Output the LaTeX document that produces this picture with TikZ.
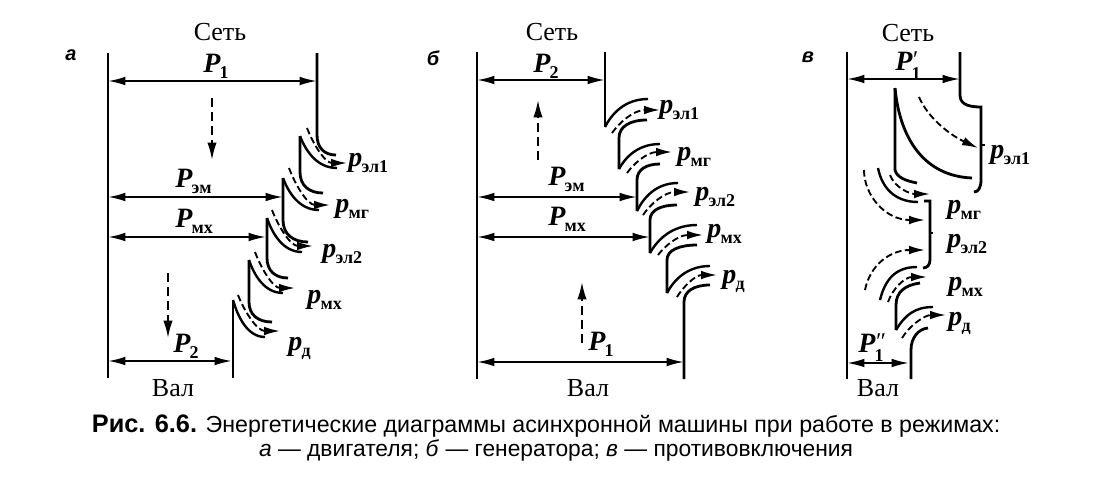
\documentclass[tikz,border=0pt]{standalone}
\usepackage{fontspec}
\setmainfont{Liberation Serif}
\setsansfont{Liberation Sans}
\usetikzlibrary{arrows.meta}
\tikzset{
  wall/.style={line width=2.1pt},
  flow/.style={line width=1.8pt},
  dsh/.style={line width=1.5pt,dash pattern=on 7pt off 3.5pt,-{Latex[length=13pt,width=7pt]}},
  dshthin/.style={line width=1.4pt,dash pattern=on 5pt off 2.5pt,-{Latex[length=12pt,width=6.5pt]}},
  dim/.style={line width=1.5pt,{Latex[length=13pt,width=6.5pt]}-{Latex[length=13pt,width=6.5pt]}},
  lb/.style={inner sep=0pt,anchor=base west},
  ttl/.style={inner sep=0pt,font=\fontsize{19.5pt}{19.5pt}\selectfont},
  tag/.style={inner sep=0pt,font=\sffamily\itshape\bfseries\fontsize{15pt}{15pt}\selectfont},
  captext/.style={inner sep=0pt,font=\sffamily\fontsize{17.4pt}{19pt}\selectfont},
  captextb/.style={inner sep=0pt,font=\sffamily\fontsize{17.1pt}{19pt}\selectfont}
}
% curve leaving vertically and arriving horizontally
\newcommand{\cv}[4]{(#1,#2) .. controls ({#1},{#2+0.65*(#4-#2)}) and ({#1+0.4*(#3-#1)},{#4}) .. (#3,#4)}
% flatter variant, leaving diagonally
\newcommand{\cvd}[4]{(#1,#2) .. controls ({#1+0.15*(#3-#1)},{#2+0.45*(#4-#2)}) and ({#1+0.45*(#3-#1)},{#4}) .. (#3,#4)}
\newcommand{\sym}[2]{{\fontsize{21pt}{21pt}\selectfont\bfseries\itshape #1}\kern-0.5pt\raisebox{-5pt}{\fontsize{13.5pt}{13.5pt}\selectfont\bfseries #2}}
\newcommand{\symb}[3]{{\fontsize{21pt}{21pt}\selectfont\bfseries\itshape #1}\kern-0.5pt\rlap{\raisebox{2pt}{\fontsize{18pt}{18pt}\selectfont\itshape #3}}\raisebox{-7pt}{\fontsize{13.5pt}{13.5pt}\selectfont\bfseries #2}}
\begin{document}
\begin{tikzpicture}[x=0.75pt,y=-0.75pt]
\useasboundingbox[fill=white] (0,0) rectangle (1115,487);

%---------- panel a
\node[tag] (ta) at (71,55) {а};
\node[ttl] (sa) at (220,32) {Сеть};
\node[ttl] (va) at (173,388) {Вал};
\coordinate (aL1) at (108,81);\coordinate (aR1) at (317,81);
\coordinate (aL2) at (108,197);\coordinate (aR2) at (283,197);
\coordinate (aL3) at (108,237);\coordinate (aR3) at (266,237);
\coordinate (aL4) at (108,361);\coordinate (aR4) at (232,361);
\draw[wall] (108,53) -- (108,378);
\draw[wall] (317,53) -- (317,135) -- \cv{317}{135}{336}{155};
\draw[wall] (300,136) -- (300,172) -- \cv{300}{172}{323}{193};
\draw[wall] (283,178) -- (283,220) -- \cv{283}{220}{308}{242};
\draw[wall] (267,218) -- (267,258) -- \cv{267}{258}{288}{278};
\draw[wall] (249,260) -- (249,302) -- \cv{249}{302}{272}{322};
\draw[wall] (233,300) -- (233,378);
\draw[flow] \cvd{300}{136}{337}{168};
\draw[flow] \cvd{283}{178}{319}{210};
\draw[flow] \cvd{267}{218}{302}{252};
\draw[flow] \cvd{249}{260}{283}{293};
\draw[flow] \cvd{233}{300}{265}{337};
\draw[dshthin] \cvd{307}{128}{347}{163};
\draw[dshthin] \cvd{289}{168}{330}{205};
\draw[dshthin] \cvd{272}{210}{313}{246};
\draw[dshthin] \cvd{255}{252}{295}{288};
\draw[dshthin] \cvd{238}{295}{280}{331};
\draw[dim] (aL1) -- (aR1);
\draw[dim] (aL2) -- (aR2);
\draw[dim] (aL3) -- (aR3);
\draw[dim] (aL4) -- (aR4);
\coordinate (aD1) at (212,98);\coordinate (aD2) at (212,160);
\coordinate (aD3) at (168,273);\coordinate (aD4) at (168,338);
\draw[dsh] (aD1) -- (aD2);
\draw[dsh] (aD3) -- (aD4);
\node[lb] (aP1) at (203,72) {\sym{P}{1}};
\node[lb] (aPem) at (175,187) {\sym{P}{эм}};
\node[lb] (aPmx) at (175,227) {\sym{P}{мх}};
\node[lb] (aP2) at (173,352) {\sym{P}{2}};
\node[lb] (ap1) at (348,166) {\sym{p}{эл1}};
\node[lb] (ap2) at (335,212) {\sym{p}{мг}};
\node[lb] (ap3) at (322,257) {\sym{p}{эл2}};
\node[lb] (ap4) at (307,303) {\sym{p}{мх}};
\node[lb] (ap5) at (288,350) {\sym{p}{д}};

%---------- panel b
\node[tag] (tb) at (433,58) {б};
\node[ttl] (sb) at (552,32) {Сеть};
\node[ttl] (vb) at (588,388) {Вал};
\coordinate (bL1) at (477,80);\coordinate (bR1) at (605,80);
\coordinate (bL2) at (477,197);\coordinate (bR2) at (637,197);
\coordinate (bL3) at (477,237);\coordinate (bR3) at (650,237);
\coordinate (bL4) at (477,362);\coordinate (bR4) at (684,362);
\draw[wall] (477,52) -- (477,379);
\draw[wall] (605,52) -- (605,127);
\draw[wall] (619,169) -- (619,138) -- \cv{619}{138}{647}{120};
\draw[wall] (637,211) -- (637,180) -- \cv{637}{180}{660}{164};
\draw[wall] (650,253) -- (650,220) -- \cv{650}{220}{677}{205};
\draw[wall] (667,293) -- (667,260) -- \cv{667}{260}{697}{245};
\draw[wall] (684,379) -- (684,302) -- \cv{684}{302}{710}{285};
\draw[flow] \cvd{605}{127}{648}{99};
\draw[flow] \cvd{619}{169}{660}{144};
\draw[flow] \cvd{637}{211}{678}{183};
\draw[flow] \cvd{650}{253}{697}{225};
\draw[flow] \cvd{667}{293}{710}{266};
\draw[dshthin] \cvd{612}{133}{660}{110};
\draw[dshthin] \cvd{627}{173}{672}{152};
\draw[dshthin] \cvd{643}{215}{690}{192};
\draw[dshthin] \cvd{658}{255}{703}{235};
\draw[dshthin] \cvd{677}{297}{717}{275};
\draw[dim] (bL1) -- (bR1);
\draw[dim] (bL2) -- (bR2);
\draw[dim] (bL3) -- (bR3);
\draw[dim] (bL4) -- (bR4);
\coordinate (bD1) at (538,160);\coordinate (bD2) at (538,100);
\coordinate (bD3) at (582,343);\coordinate (bD4) at (582,282);
\draw[dsh] (bD1) -- (bD2);
\draw[dsh] (bD3) -- (bD4);
\node[lb] (bP2) at (533,72) {\sym{P}{2}};
\node[lb] (bPem) at (548,185) {\sym{P}{эм}};
\node[lb] (bPmx) at (548,225) {\sym{P}{мх}};
\node[lb] (bP1) at (588,350) {\sym{P}{1}};
\node[lb] (bp1) at (659,113) {\sym{p}{эл1}};
\node[lb] (bp2) at (677,160) {\sym{p}{мг}};
\node[lb] (bp3) at (695,200) {\sym{p}{эл2}};
\node[lb] (bp4) at (707,237) {\sym{p}{мх}};
\node[lb] (bp5) at (722,283) {\sym{p}{д}};

%---------- panel c
\node[tag] (tc) at (808,57) {в};
\node[ttl] (sc) at (908,33) {Сеть};
\node[ttl] (vc) at (878,388) {Вал};
\coordinate (cL1) at (847,79);\coordinate (cR1) at (960,79);
\coordinate (cL2) at (847,363);\coordinate (cR2) at (909,363);
\draw[wall] (847,52) -- (847,379);
\draw[wall] (960,52) -- (960,95) .. controls (960,103) and (966,107) .. (981,107) -- (981,180) .. controls (981,188) and (978,192) .. (974,192);
\draw[line width=1.6pt] (981,145) -- (985,145);
\draw[wall] (895,88) -- (895,170) .. controls (897,178) and (907,181) .. (917,183);
\draw[wall] (895,88) .. controls (900,140) and (925,176) .. (972,178);
\draw[dshthin] (919,97) .. controls (928,118) and (950,135) .. (978,148);
\draw[flow] (878,168) .. controls (882,188) and (895,202) .. (918,202);
\draw[dshthin] (890,175) .. controls (895,188) and (910,194) .. (930,194);
\draw[dshthin] (864,170) .. controls (864,195) and (885,220) .. (925,220);
\draw[wall] (924,201) -- (930,201) -- (930,260) .. controls (930,265) and (927,268) .. (923,268);
\draw[line width=1.6pt] (930,233) -- (933,233);
\draw[dshthin] (865,290) .. controls (870,265) and (890,250) .. (925,250);
\draw[flow] (880,300) .. controls (885,280) and (895,267) .. (917,267);
\draw[dshthin] (888,302) .. controls (893,288) and (905,277) .. (927,277);
\draw[wall] (896,330) -- (896,305) .. controls (896,292) and (905,285) .. (920,283);
\draw[flow] (896,330) .. controls (905,315) and (915,307) .. (933,307);
\draw[dshthin] (902,338) .. controls (910,325) and (925,315) .. (946,315);
\draw[wall] (911,379) -- (911,350) .. controls (911,338) and (918,329) .. (928,328);
\draw[dim] (cL1) -- (cR1);
\draw[dim] (cL2) -- (cR2);
\node[lb] (cP1) at (895,70) {\symb{P}{1}{′}};
\node[lb] (cP2) at (858,352) {\symb{P}{1}{″}};
\node[lb] (cp1) at (990,158) {\sym{p}{эл1}};
\node[lb] (cp2) at (947,213) {\sym{p}{мг}};
\node[lb] (cp3) at (947,247) {\sym{p}{эл2}};
\node[lb] (cp4) at (948,290) {\sym{p}{мх}};
\node[lb] (cp5) at (948,325) {\sym{p}{д}};

%---------- caption
\node[captext] (c1) at (546,426) {{\fontsize{19pt}{19pt}\selectfont\bfseries Рис. 6.6.} Энергетические диаграммы асинхронной машины при работе в режимах:};
\node[captextb] (c2) at (556,450) {\textit{а} — двигателя; \textit{б} — генератора; \textit{в} — противовключения};
\end{tikzpicture}
\end{document}
